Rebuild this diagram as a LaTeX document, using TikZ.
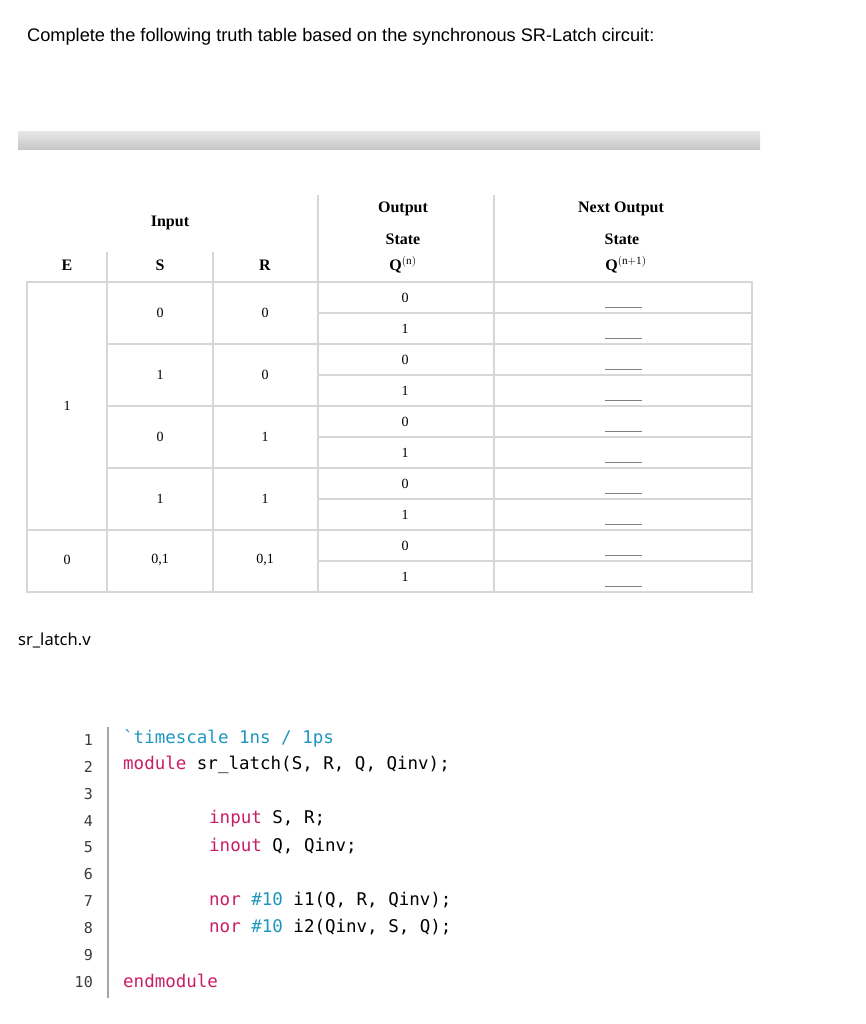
\documentclass[tikz,border=0pt]{standalone}
\usepackage{fontspec}
\setmainfont{Liberation Serif}
\newfontfamily\arialf{Liberation Sans}
\newfontfamily\notof{Noto Sans}
\newfontfamily\codef{DejaVu Sans Mono}
\definecolor{gridc}{RGB}{215,215,215}
\definecolor{kw}{RGB}{200,30,100}
\definecolor{tl}{RGB}{30,150,190}
\definecolor{lnc}{RGB}{60,60,60}
\begin{document}
\begin{tikzpicture}[x=1pt,y=-1pt,
  hd/.style={font=\fontsize{16}{18}\selectfont\bfseries},
  cell/.style={font=\fontsize{14}{16}\selectfont},
  code/.style={anchor=west,font=\codef\fontsize{17.5}{19}\selectfont,inner sep=0pt},
  lnum/.style={anchor=east,font=\codef\fontsize{15}{17}\selectfont,text=lnc,inner sep=0pt},
  grid/.style={draw=gridc,line width=1.2pt}]
\useasboundingbox (0,0) rectangle (865,1024);
\node[anchor=west,inner sep=0pt,font=\arialf\fontsize{18.2}{20}\selectfont] (title) at (27,37) {Complete the following truth table based on the synchronous SR-Latch circuit:};
\shade[top color=gray!20,bottom color=gray!45] (18,132) rectangle (760,150);
% header
\node[hd] (hin) at (170,223) {Input};
\node[hd] (hout) at (403,209) {Output};
\node[hd] (hst1) at (403,239) {State};
\node[hd] (hq) at (403,265) {Q$^{(\mathrm{n})}$};
\node[hd] (hnext) at (621,209) {Next Output};
\node[hd] (hst2) at (622,239) {State};
\node[hd] (hq2) at (626,265) {Q$^{(\mathrm{n+1})}$};
\node[hd] (he) at (67,265) {E};
\node[hd] (hs) at (160,265) {S};
\node[hd] (hr) at (265,265) {R};
% grid
\draw[grid] (107,252) -- (107,592) (213,252) -- (213,592) (318,195) -- (318,592) (494,195) -- (494,592);
\draw[grid] (27,282) rectangle (752,592);
\draw[grid] (27,530) -- (752,530);
\foreach \y in {344,406,468} \draw[grid] (107,\y) -- (752,\y);
\foreach \y in {313,375,437,499,561} \draw[grid] (318,\y) -- (752,\y);
% cells
\node[cell] (e1) at (67,406) {1};
\node[cell] (e0) at (67,560) {0};
\foreach \s/\r/\y in {0/0/313,1/0/375,0/1/437,1/1/499,{0,1}/{0,1}/560}{
  \node[cell] at (160,\y) {\s};
  \node[cell] at (265,\y) {\r};}
\foreach \i in {0,...,9}{
  \pgfmathsetmacro{\yy}{297.5+31*\i}
  \pgfmathtruncatemacro{\qq}{mod(\i,2)}
  \node[cell] at (405,\yy) {\qq};
  \draw[gray,line width=0.8pt] (605,\yy+10) -- (642,\yy+10);}
% code
\node[anchor=west,inner sep=0pt,font=\notof\fontsize{16.5}{18}\selectfont\bfseries] (fname) at (18,640) {sr\_latch.v};
\draw[gray!70,line width=1.2pt] (108,727) -- (108,998);
\foreach \i in {1,...,10}{
  \node[lnum] at (93,{740+26.9*(\i-1)}) {\i};}
\node[code] (c1) at (123,738) {\textcolor{tl}{`timescale 1ns / 1ps}};
\node[code] (c2) at (123,765) {\textcolor{kw}{module} sr\_latch(S, R, Q, Qinv);};
\node[code] (c4) at (209,819) {\textcolor{kw}{input} S, R;};
\node[code] (c5) at (209,846) {\textcolor{kw}{inout} Q, Qinv;};
\node[code] (c7) at (209,900) {\textcolor{kw}{nor} \textcolor{tl}{\#10} i1(Q, R, Qinv);};
\node[code] (c8) at (209,927) {\textcolor{kw}{nor} \textcolor{tl}{\#10} i2(Qinv, S, Q);};
\node[code] (c10) at (123,981) {\textcolor{kw}{endmodule}};
\end{tikzpicture}
\end{document}
